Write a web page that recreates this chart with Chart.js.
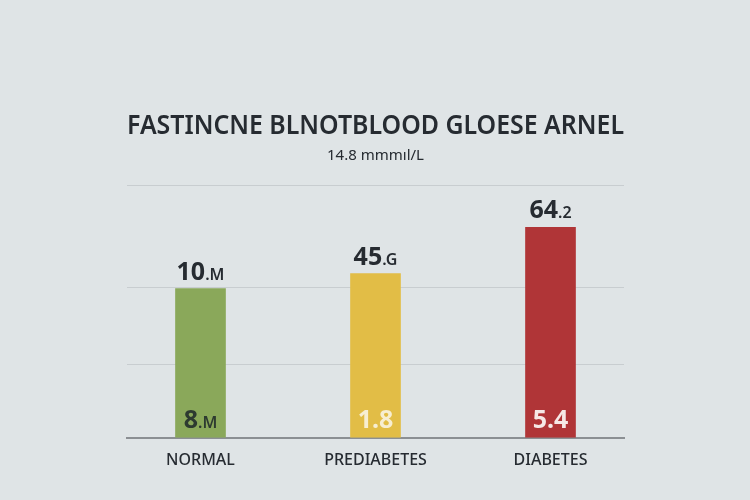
<!DOCTYPE html>
<html>
<head>
<meta charset="utf-8">
<script src="https://cdn.jsdelivr.net/npm/chart.js@4.4.1/dist/chart.umd.min.js"></script>
<style>
  html, body { margin: 0; padding: 0; background: #dfe4e6; }
  #wrap { width: 750px; height: 500px; }
</style>
</head>
<body>
<div id="wrap"><canvas id="bieu_do"></canvas></div>
<script>
// data
const categories = ['NORMAL', 'PREDIABETES', 'DIABETES'];
const values = [45.5, 50.1, 64.2];
const barColors = ['#8aa85a', '#e2bd46', '#b03537'];
const gridTicks = [0, 22.3, 45.8, 77];
const topMain = ['10', '45', '64'];
const topSuffix = ['.M', '.G', '.2'];
const insideMain = ['8', '1.8', '5.4'];
const insideSuffix = ['.M', '', ''];
const insideColors = ['#2d3a30', '#f7eed2', '#f6e8e6'];

const fontFam = '"Noto Sans", "Open Sans", sans-serif';

// draws the number labels above and inside each bar
const barLabels = {
    id: 'barLabels',
    afterDatasetsDraw(chart) {
        const ctx = chart.ctx;
        const meta = chart.getDatasetMeta(0);
        const drawPair = (x, y, main, suf, bigSize, smallSize, color) => {
            ctx.font = '700 ' + bigSize + 'px ' + fontFam;
            const w1 = ctx.measureText(main).width;
            ctx.font = '600 ' + smallSize + 'px ' + fontFam;
            const w2 = ctx.measureText(suf).width;
            let sx = x - (w1 + w2) / 2;
            ctx.fillStyle = color;
            ctx.textBaseline = 'alphabetic';
            ctx.textAlign = 'left';
            ctx.font = '700 ' + bigSize + 'px ' + fontFam;
            ctx.fillText(main, sx, y);
            ctx.font = '600 ' + smallSize + 'px ' + fontFam;
            ctx.fillText(suf, sx + w1, y);
        };
        ctx.save();
        meta.data.forEach((bar, i) => {
            drawPair(bar.x, bar.y - 9, topMain[i], topSuffix[i], 25, 16, '#262b31');
            drawPair(bar.x, bar.base - 9, insideMain[i], insideSuffix[i], 25, 16, insideColors[i]);
        });
        ctx.restore();
    }
};

const cty = document.getElementById('bieu_do');
const bieu_do = new Chart(cty, {
    type: 'bar',
    data: {
        datasets: [{
            data: values.map((v, i) => ({ x: i, y: v })),
            backgroundColor: barColors,
            borderWidth: 0,
            barThickness: 50
        }]
    },
    options: {
        responsive: true,
        maintainAspectRatio: false,
        animation: false,
        layout: { padding: { left: 127, right: 126, top: 110, bottom: 25 } },
        plugins: {
            legend: { display: false },
            tooltip: { enabled: false },
            title: {
                display: true,
                text: 'FASTINCNE BLNOTBLOOD GLOESE ARNEL',
                color: '#262b31',
                font: { family: fontFam, size: 27, weight: '600' },
                padding: { top: 0, bottom: 4 }
            },
            subtitle: {
                display: true,
                text: '14.8 mmmıl/L',
                color: '#262b31',
                font: { family: fontFam, size: 15, weight: '400' },
                padding: { top: 0, bottom: 21 }
            }
        },
        scales: {
            x: {
                type: 'linear',
                offset: false,
                min: -0.42,
                max: 2.42,
                afterBuildTicks(axis) { axis.ticks = [0, 1, 2].map(v => ({ value: v })); },
                grid: { display: false, offset: false },
                border: { display: true, color: '#8b8f93', width: 2 },
                ticks: {
                    callback: v => categories[v],
                    color: '#262b31',
                    font: { family: fontFam, size: 16, weight: '500' },
                    padding: 5,
                    maxRotation: 0
                }
            },
            y: {
                min: 0,
                max: 77,
                afterBuildTicks(axis) { axis.ticks = gridTicks.map(v => ({ value: v })); },
                grid: { color: '#c8cdd0', lineWidth: 1, drawTicks: false },
                border: { display: false },
                ticks: { display: false }
            }
        }
    },
    plugins: [barLabels]
});
</script>
</body>
</html>
